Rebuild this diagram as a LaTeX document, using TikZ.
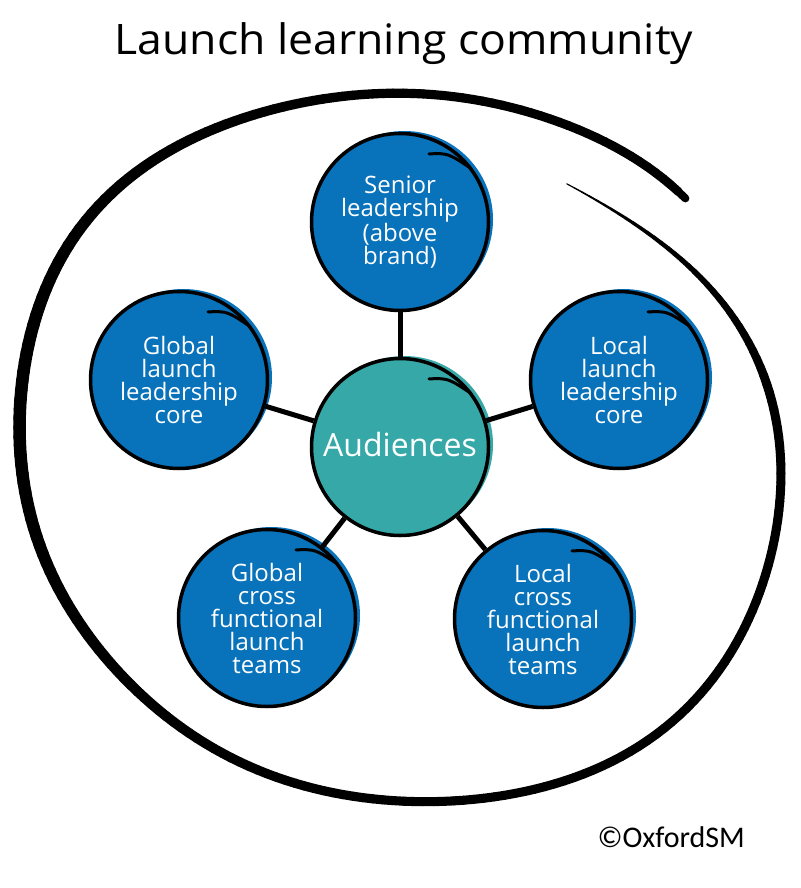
\documentclass[tikz,border=0pt]{standalone}
\usepackage{fontspec}
\setmainfont{Open Sans}
\newfontfamily\calib{Carlito}
\definecolor{cblue}{RGB}{8,114,186}
\definecolor{cteal}{RGB}{54,168,168}
\pgfmathdeclarefunction{gs}{3}{\pgfmathparse{exp(max(-8,0-pow((#1-#2)/#3,2)))}}
\pgfmathdeclarefunction{loopn}{1}{\pgfmathparse{1-0.14*gs(#1,0,40)+0.055*gs(#1,110,30)-0.015*gs(#1,200,25)+0.05*gs(#1,280,28)+0.022*gs(#1,375,20)}}
\pgfmathdeclarefunction{loopw}{1}{\pgfmathparse{min(1.2+0.16*#1, 7+0.5*(377-#1), 9+3.5*gs(#1,245,50))}}
\begin{document}
\begin{tikzpicture}[x=1pt,y=-1pt,
  bub/.style={circle, minimum size=177pt, inner sep=0pt, fill=cblue, draw=black,
     line width=3.5pt, text=white, align=center, font=\fontsize{24}{23}\selectfont},
  audst/.style={bub, fill=cteal, font=\fontsize{32}{36}\selectfont},
  hook/.style={line width=3pt, line cap=round},
  link/.style={line width=5pt},
  brushseg/.style={line cap=round},
  titlest/.style={font=\fontsize{42}{48}\selectfont},
  copyst/.style={font=\calib\fontsize{30}{32}\selectfont}]
\useasboundingbox (0,0) rectangle (800,888);

% title
\node[titlest, anchor=base] (title) at (404,55) {\scalebox{1.06}[1]{Launch learning community}};

% big hand-drawn loop (brush stroke of varying width)
\foreach \s in {0,1.5,...,375.5} {
  \pgfmathsetmacro\sb{\s+1.5}
  \pgfmathsetmacro\na{loopn(\s)}
  \pgfmathsetmacro\nb{loopn(\sb)}
  \pgfmathsetmacro\xa{403+381*\na*cos(60-\s)}
  \pgfmathsetmacro\ya{446-352*\na*sin(60-\s)}
  \pgfmathsetmacro\xb{403+381*\nb*cos(60-\sb)}
  \pgfmathsetmacro\yb{446-352*\nb*sin(60-\sb)}
  \pgfmathsetmacro\ww{loopw(\s)}
  \draw[brushseg, line width=\ww pt] (\xa,\ya) -- (\xb,\yb);
}

% centres
\coordinate (csen) at (400,222);
\coordinate (cglo) at (179,380);
\coordinate (cloc) at (619,380);
\coordinate (cgcf) at (267,618);
\coordinate (clcf) at (543,619);
\coordinate (caud) at (400,447);

% offset colour behind the outlines
\foreach \c in {csen,cglo,cloc,cgcf,clcf}
  \fill[cblue] ([shift={(4.5pt,2.5pt)}]\c) circle (88.5pt);
\fill[cteal] ([shift={(4.5pt,2.5pt)}]caud) circle (88.5pt);

% nodes
\node[bub] (sen) at (csen) {Senior\\leadership\\(above\\brand)};
\node[bub] (glo) at (cglo) {Global\\launch\\leadership\\core};
\node[bub] (loc) at (cloc) {Local\\launch\\leadership\\core};
\node[bub] (gcf) at (cgcf) {Global\\cross\\functional\\launch\\teams};
\node[bub] (lcf) at (clcf) {Local\\cross\\functional\\launch\\teams};
\node[audst] (aud) at (caud) {\raisebox{6pt}{Audiences}};

% hand-drawn overlap strokes
\foreach \c in {csen,cglo,cloc,cgcf,clcf,caud}
  \draw[hook] ([shift={(67:74pt)}]\c) .. controls ([shift={(55:84pt)}]\c) .. ([shift={(37:89pt)}]\c);

% connectors
\draw[link] (aud) -- (sen);
\draw[link] (aud) -- (glo);
\draw[link] (aud) -- (loc);
\draw[link] (aud) -- (gcf);
\draw[link] (aud) -- (lcf);

% copyright
\node[copyst, anchor=base west] (copy) at (594,847) {©OxfordSM};
\end{tikzpicture}
\end{document}
